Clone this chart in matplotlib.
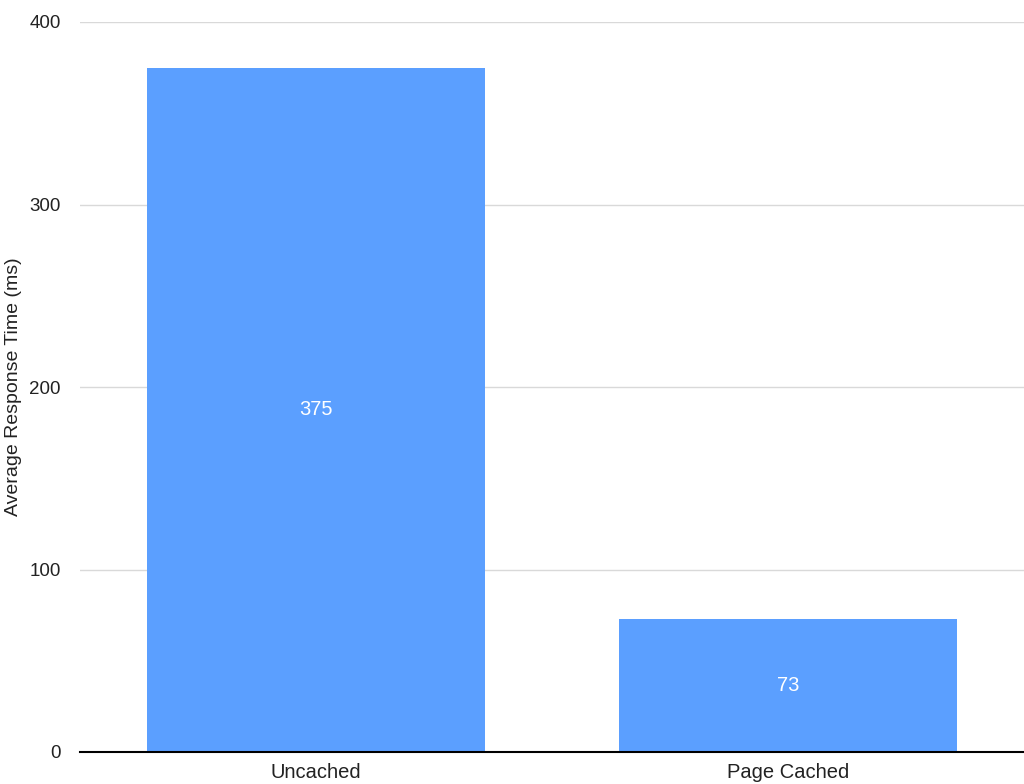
import matplotlib
matplotlib.use("Agg")
import matplotlib.pyplot as plt

# --- data ---
categories = ["Uncached", "Page Cached"]
response_ms = [375, 73]
y_ticks = [0, 100, 200, 300, 400]

plt.rcParams['font.family'] = ['Liberation Sans', 'DejaVu Sans']

fig = plt.figure(figsize=(10.24, 7.84), dpi=100)
ax = fig.add_axes([80 / 1024, 32 / 784, 944 / 1024, 730 / 784])

x = range(len(categories))
bars = ax.bar(x, response_ms, width=0.716, color="#5B9FFF", zorder=2)

for rect, val in zip(bars, response_ms):
    ax.text(rect.get_x() + rect.get_width() / 2, val / 2, str(val),
            ha="center", va="center", color="white", fontsize=14.5)

ax.set_xlim(-0.5, 1.5)
ax.set_ylim(0, 400)
ax.set_yticks(y_ticks)
ax.set_xticks(list(x))
ax.set_xticklabels(categories)
ax.tick_params(axis="both", length=0, colors="#222222")
ax.tick_params(axis="y", pad=14, labelsize=13.5)
ax.tick_params(axis="x", pad=8, labelsize=14.5)

# y label placed in figure coords so it isn't clipped
fig.text(14 / 1024, 1 - 387 / 784, "Average Response Time (ms)", rotation=90,
         ha="center", va="center", fontsize=14, color="#222222")

ax.grid(axis="y", color="#d9d9d9", linewidth=1, zorder=0)
for side in ["top", "right", "left"]:
    ax.spines[side].set_visible(False)
ax.spines["bottom"].set_color("black")
ax.spines["bottom"].set_linewidth(1.5)
ax.spines["bottom"].set_zorder(3)

fig.savefig("out.png", dpi=100)
